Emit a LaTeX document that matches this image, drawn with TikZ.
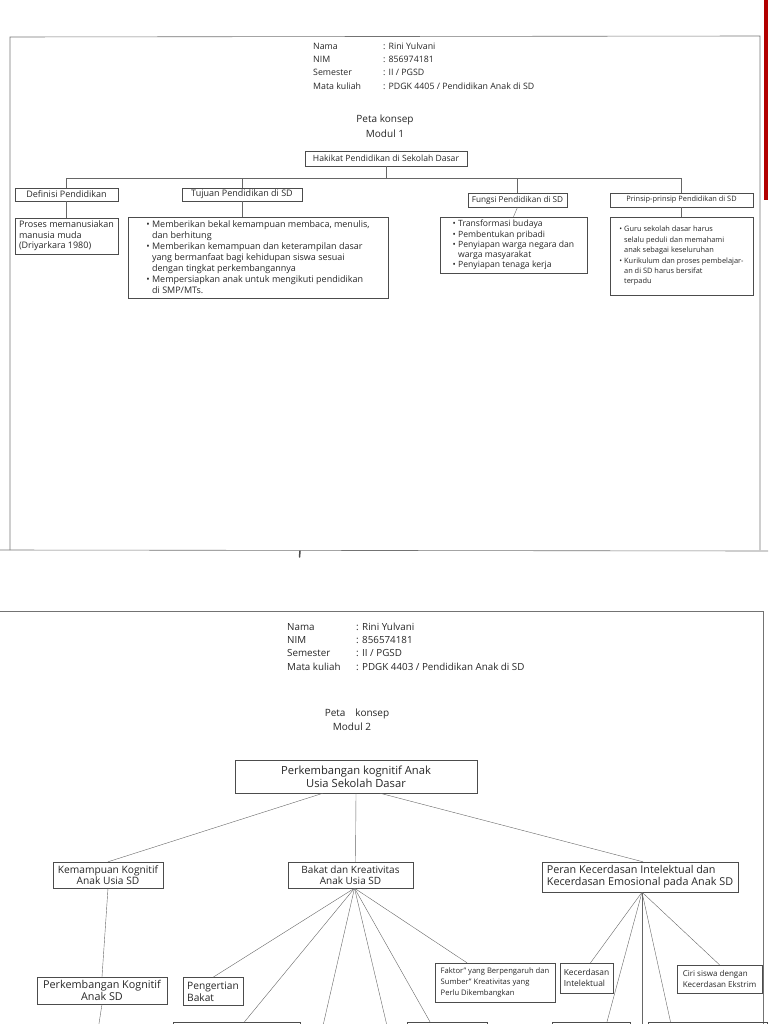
\documentclass[tikz,border=0pt]{standalone}
\usepackage{fontspec}
\setmainfont{Open Sans}
\usetikzlibrary{positioning}
\newcommand{\bul}{\textbullet\ }
\newcommand{\ind}{\phantom{\textbullet\ }}
\begin{document}
\begin{tikzpicture}[x=1pt, y=-1pt,
  fz/.style 2 args={font=\fontsize{#1}{#2}\selectfont},
  box/.style={draw=black!70, inner sep=1.5pt, align=left, text=black!85},
  hdr/.style={anchor=west, inner sep=0pt, text=black!85},
  link/.style={draw=black!60},
  frame/.style={draw=black!55, line width=0.6pt}
]
\useasboundingbox (0,0) rectangle (768,1024);
\clip (0,0) rectangle (768,1024);

% sheet borders
\fill[red!70!black] (764,0) rectangle (768,200);
\draw[frame] (10,550) -- (10,37) -- (760,36) -- (760,550);
\draw[frame] (0,550) -- (768,551);
\draw[line width=1.5pt, black!70, line cap=round] (300,551) -- (299.5,557);
\draw[frame] (0,611) -- (763,611) -- (763,1024);

% ---------- Modul 1 ----------
\node[hdr,fz={8.8}{11}] (nama1) at (313,46) {Nama};
\node[hdr,fz={8.8}{11}] (nim1) at (313,59) {NIM};
\node[hdr,fz={8.8}{11}] (sem1) at (313,72) {Semester};
\node[hdr,fz={8.8}{11}] (mk1) at (313,86) {Mata kuliah};
\node[hdr,fz={8.8}{11}] at (383,46) {: Rini Yulvani};
\node[hdr,fz={8.8}{11}] at (383,59) {: 856974181};
\node[hdr,fz={8.8}{11}] at (383,72) {: II / PGSD};
\node[hdr,fz={8.8}{11}] at (383,86) {: PDGK 4405 / Pendidikan Anak di SD};

\node[fz={10}{12}, text=black!85] (judul1) at (385,120) {Peta konsep};
\node[fz={10}{12}, text=black!85] (modul1) at (385,134) {Modul 1};

\node[box, fz={8.6}{10}, minimum width=162, minimum height=15] (hakikat) at (386,158.5)
  {Hakikat Pendidikan di Sekolah Dasar};
\coordinate (hub1) at (386,178);

\node[box, fz={9}{10}, minimum width=103, minimum height=13] (definisi) at (66.5,194.5)
  {Definisi Pendidikan};
\node[box, fz={9}{10}, minimum width=120, minimum height=13] (tujuan) at (242,194.5)
  {Tujuan Pendidikan di SD};
\node[box, fz={8.2}{10}, minimum width=99, minimum height=14] (fungsi) at (517.5,200)
  {Fungsi Pendidikan di SD};
\node[box, fz={7.4}{9}, minimum width=143, minimum height=14] (prinsip) at (681.5,200)
  {Prinsip-prinsip Pendidikan di SD};

\node[box, fz={9}{10.6}, minimum width=103, minimum height=36] (proses) at (66.5,236)
  {Proses memanusiakan\\manusia muda\\(Driyarkara 1980)};
\node[box, fz={9}{11}, minimum width=260, minimum height=81] (tujuanisi) at (258,257.5)
  {\bul Memberikan bekal kemampuan membaca, menulis,\\\ind dan berhitung\\
   \bul Memberikan kemampuan dan keterampilan dasar\\\ind yang bermanfaat bagi kehidupan siswa sesuai\\
   \ind dengan tingkat perkembangannya\\
   \bul Mempersiapkan anak untuk mengikuti pendidikan\\\ind di SMP/MTs.};
\node[box, fz={8.6}{10.2}, minimum width=147, minimum height=56] (fungsiisi) at (513.5,245)
  {\bul Transformasi budaya\\\bul Pembentukan pribadi\\\bul Penyiapan warga negara dan\\
   \ind warga masyarakat\\\bul Penyiapan tenaga kerja};
\node[box, fz={7.4}{10.4}, minimum width=143, minimum height=78] (prinsipisi) at (681.5,256)
  {\bul Guru sekolah dasar harus\\\ind selalu peduli dan memahami\\\ind anak sebagai keseluruhan\\
   \bul Kurikulum dan proses pembelajar-\\\ind an di SD harus bersifat\\\ind terpadu};

\draw[link] (hakikat.south) -- (hub1);
\draw[link] (definisi.north) |- (hub1);
\draw[link] (tujuan.north) |- (hub1);
\draw[link] (fungsi.north) |- (hub1);
\draw[link] (prinsip.north) |- (hub1);
\draw[link] (definisi.south) -- (proses.north);
\draw[link] (tujuan.south) -- (tujuan.south |- tujuanisi.north);
\draw[link] (fungsi.south) -- (fungsiisi.north);
\draw[link] (prinsip.south) -- (prinsipisi.north);

% ---------- Modul 2 ----------
\node[hdr,fz={9.8}{12}] (nama2) at (287,627) {Nama};
\node[hdr,fz={9.8}{12}] (nim2) at (287,640) {NIM};
\node[hdr,fz={9.8}{12}] (sem2) at (287,653) {Semester};
\node[hdr,fz={9.8}{12}] (mk2) at (287,667) {Mata kuliah};
\node[hdr,fz={9.8}{12}] at (356,627) {: Rini Yulvani};
\node[hdr,fz={9.8}{12}] at (356,640) {: 856574181};
\node[hdr,fz={9.8}{12}] at (356,653) {: II / PGSD};
\node[hdr,fz={9.8}{12}] at (356,667) {: PDGK 4403 / Pendidikan Anak di SD};

\node[fz={10}{12}, text=black!85] (judul2) at (357,714) {Peta\quad konsep};
\node[fz={10}{12}, text=black!85] (modul2) at (352,727) {Modul 2};

\node[box, fz={11.2}{13}, align=center, minimum width=242, minimum height=33] (kognitif) at (356,776.5)
  {Perkembangan kognitif Anak\\Usia Sekolah Dasar};

\node[box, fz={10.2}{11.5}, align=center, minimum width=110, minimum height=26] (kemampuan) at (108,875)
  {Kemampuan Kognitif\\Anak Usia SD};
\node[box, fz={10}{11.5}, align=center, minimum width=125, minimum height=26] (bakat) at (350.5,875)
  {Bakat dan Kreativitas\\Anak Usia SD};
\node[box, fz={10.8}{12}, minimum width=196, minimum height=30] (peran) at (640,877)
  {Peran Kecerdasan Intelektual dan\\Kecerdasan Emosional pada Anak SD};

\node[box, fz={10.8}{12}, align=center, minimum width=130, minimum height=27] (perkembangan) at (102,990.5)
  {Perkembangan Kognitif\\Anak SD};
\node[box, fz={10.2}{12}, minimum width=60, minimum height=28] (pengertian) at (213,991.5)
  {Pengertian\\Bakat};
\node[box, fz={7.6}{11}, minimum width=120, minimum height=39] (faktor) at (495,982.5)
  {Faktor'' yang Berpengaruh dan\\Sumber'' Kreativitas yang\\Perlu Dikembangkan};
\node[box, fz={8.4}{11}, minimum width=53, minimum height=30] (kecint) at (586.5,978)
  {Kecerdasan\\Intelektual};
\node[box, fz={8}{11}, minimum width=85, minimum height=28] (ciri) at (719.5,979)
  {Ciri siswa dengan\\Kecerdasan Ekstrim};

% boxes cut off by the lower edge
\node[box, minimum width=127, minimum height=40] (bawah1) at (236.5,1042) {};
\node[box, minimum width=80, minimum height=40] (bawah2) at (447,1042) {};
\node[box, minimum width=78, minimum height=40] (bawah3) at (591,1042) {};
\node[box, minimum width=119, minimum height=40] (bawah4) at (707.5,1042) {};

\coordinate (ujungK) at (98,1030);
\coordinate (ujungB1) at (322,1030);
\coordinate (ujungB2) at (388,1030);
\coordinate (ujungP) at (642,1030);
\coordinate (pusatB) at ([xshift=4pt]bakat.south);
\coordinate (pusatP) at ([xshift=2pt]peran.south);

\draw[link] ([xshift=-33pt]kognitif.south) -- (kemampuan.north);
\draw[link] (kognitif.south) -- ([xshift=5pt]bakat.north);
\draw[link] ([xshift=24pt]kognitif.south) -- ([xshift=3pt]peran.north);

\draw[link] (kemampuan.south) -- (perkembangan.north);
\draw[link] (perkembangan.south) -- (ujungK);

\draw[link] (pusatB) -- (pengertian.north);
\draw[link] (pusatB) -- ([xshift=8pt]bawah1.north);
\draw[link] (pusatB) -- (ujungB1);
\draw[link] (pusatB) -- (ujungB2);
\draw[link] (pusatB) -- ([xshift=-17pt]bawah2.north);
\draw[link] (pusatB) -- ([xshift=-28pt]faktor.north);

\draw[link] (pusatP) -- ([xshift=4pt]kecint.north);
\draw[link] (pusatP) -- ([xshift=16pt]bawah3.north);
\draw[link] (pusatP) -- (ujungP);
\draw[link] (pusatP) -- ([xshift=-37pt]bawah4.north);
\draw[link] (pusatP) -- (ciri.north);

\end{tikzpicture}
\end{document}
